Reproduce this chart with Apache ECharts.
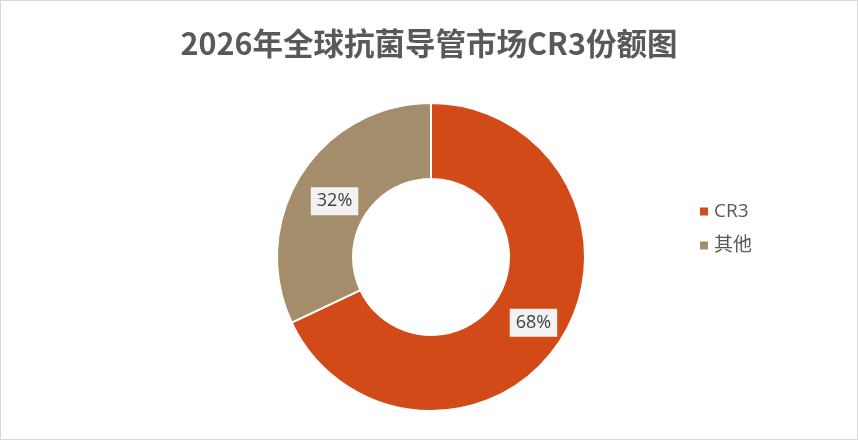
<!DOCTYPE html>
<html>
<head>
<meta charset="utf-8">
<script src="https://cdn.jsdelivr.net/npm/echarts@6/dist/echarts.min.js"></script>
<style>
  html, body { margin: 0; padding: 0; background: #fff; }
  #chart { width: 856px; height: 438px; border: 1px solid #d9d9d9; }
</style>
</head>
<body>
<div id="chart"></div>
<script>
// 数据
var names = ['CR3', '其他'];
var shares = [68, 32];
var colors = ['#D24A17', '#A48D6A'];
// 标签微调 (Excel 的标签位置不完全在环中间)
var labelOffsets = [[2, 2], [4, 8]];

var chart = echarts.init(document.getElementById('chart'));
var pieData = names.map(function (n, i) {
  return {
    name: n,
    value: shares[i],
    itemStyle: { color: colors[i] },
    label: { offset: labelOffsets[i] }
  };
});

var option = {
  backgroundColor: '#fff',
  title: {
    text: '2026年全球抗菌导管市场CR3份额图',
    left: 'center',
    top: 22,
    textStyle: {
      color: '#595959',
      fontSize: 30.5,
      fontWeight: 'bold',
      fontFamily: '"Noto Sans CJK SC", "Noto Sans", sans-serif'
    }
  },
  legend: {
    orient: 'vertical',
    left: 692,
    top: 196,
    itemWidth: 10,
    itemHeight: 10,
    itemGap: 15,
    icon: 'rect',
    textStyle: {
      color: '#595959',
      fontSize: 19,
      fontFamily: '"Open Sans", "Noto Sans CJK SC", sans-serif'
    },
    data: names
  },
  series: [
    {
      type: 'pie',
      center: [430, 256],
      radius: [78, 154],
      startAngle: 90,
      clockwise: true,
      avoidLabelOverlap: false,
      itemStyle: { borderColor: '#fff', borderWidth: 2 },
      label: {
        show: true,
        position: 'inside',
        formatter: '{c}%',
        color: '#404040',
        fontSize: 18,
        fontFamily: '"Open Sans", "Noto Sans", sans-serif',
        backgroundColor: '#F2F2F2',
        padding: [6, 6, 4, 6]
      },
      labelLine: { show: false },
      emphasis: { disabled: true },
      data: pieData
    }
  ]
};
chart.setOption(option);
</script>
</body>
</html>
